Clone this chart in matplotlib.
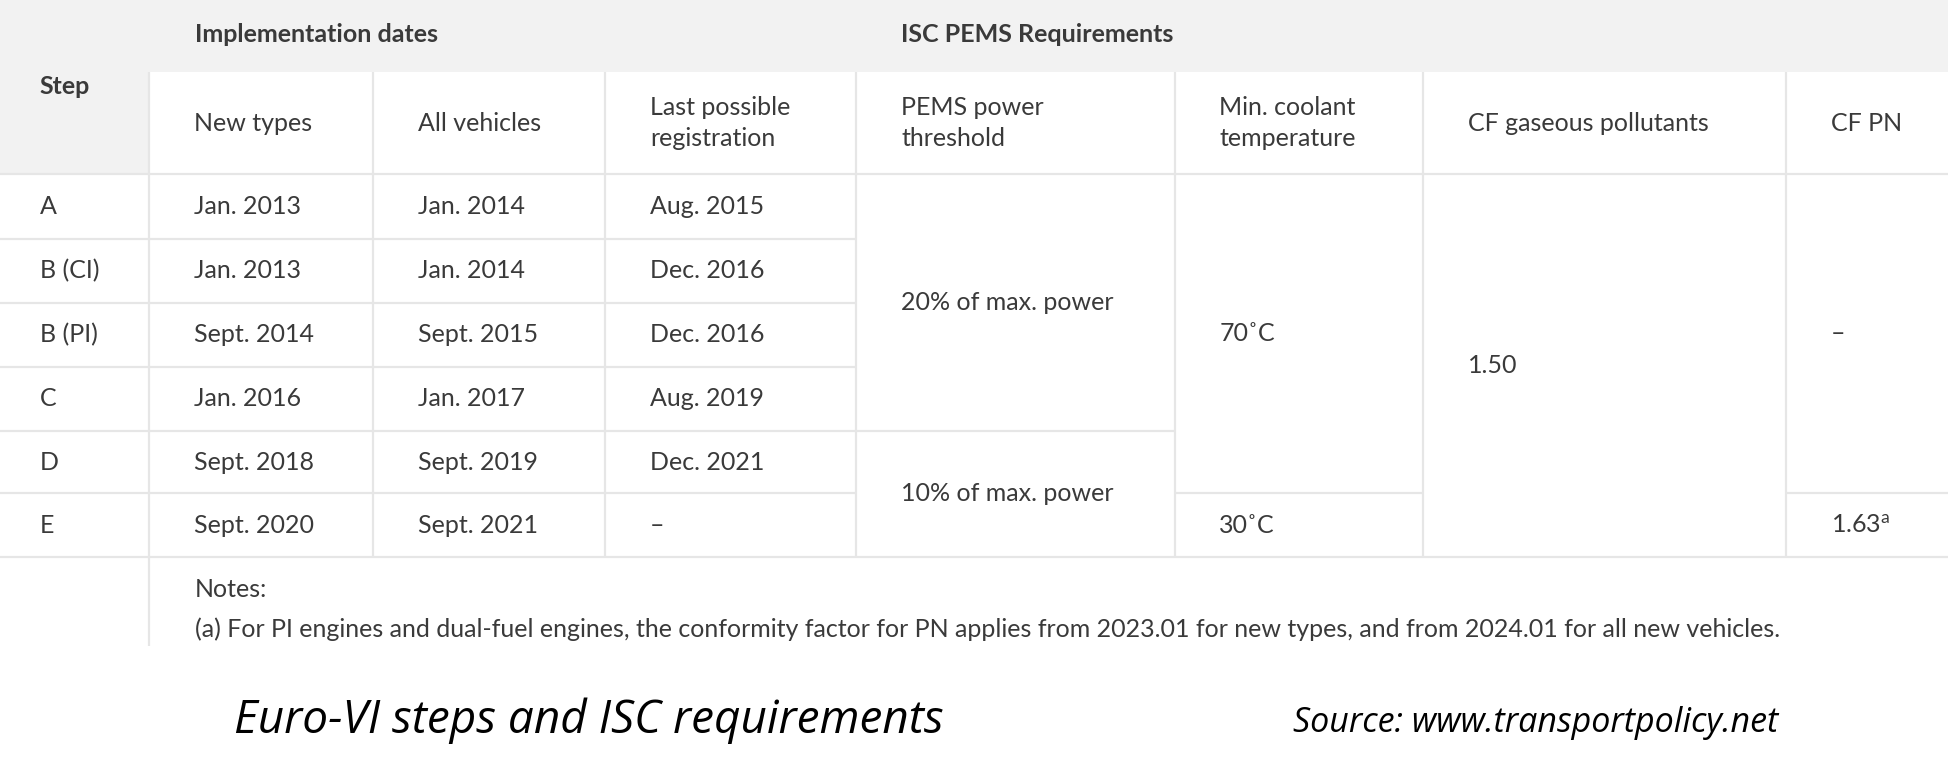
import matplotlib
matplotlib.use("Agg")
import matplotlib.pyplot as plt
from matplotlib.patches import Rectangle

steps = ["A", "B (CI)", "B (PI)", "C", "D", "E"]
new_types = ["Jan. 2013", "Jan. 2013", "Sept. 2014", "Jan. 2016", "Sept. 2018", "Sept. 2020"]
all_vehicles = ["Jan. 2014", "Jan. 2014", "Sept. 2015", "Jan. 2017", "Sept. 2019", "Sept. 2021"]
last_reg = ["Aug. 2015", "Dec. 2016", "Dec. 2016", "Aug. 2019", "Dec. 2021", "–"]
pems = [("20% of max. power", 0, 4), ("10% of max. power", 4, 6)]
coolant = [("70˚C", 0, 5), ("30˚C", 5, 6)]
cf_gas = [("1.50", 0, 6)]
cf_pn = [("–", 0, 5), ("1.63$^{\\mathregular{a}}$", 5, 6)]
headers = ["New types", "All vehicles", "Last possible\nregistration", "PEMS power\nthreshold",
           "Min. coolant\ntemperature", "CF gaseous pollutants", "CF PN"]
notes = ["Notes:", "(a) For PI engines and dual-fuel engines, the conformity factor for PN applies from 2023.01 for new types, and from 2024.01 for all new vehicles."]

W, H = 1568, 622
fig = plt.figure(figsize=(19.49, 7.73), dpi=100)
ax = fig.add_axes([0, 0, 1, 1])
ax.set_xlim(0, W); ax.set_ylim(H, 0); ax.axis("off")

gray = "#f2f2f2"; line = "#e6e6e6"; tc = "#3a3a3a"
fam = ["Lato", "DejaVu Sans"]; fs = 18
cols = [0, 120, 300, 487, 689, 945, 1145, 1437, 1568]
rows = [140, 192, 244, 295, 347, 397, 448]

ax.add_patch(Rectangle((0, 0), W, 58, color=gray, lw=0))
ax.add_patch(Rectangle((0, 0), 120, 140, color=gray, lw=0))
ax.add_patch(Rectangle((120, 58), W - 120, 82, color="white", lw=0))

def hl(y, x0, x1):
    ax.plot([x0, x1], [y, y], color=line, lw=1.6, solid_capstyle="butt")
def vl(x, y0, y1):
    ax.plot([x, x], [y0, y1], color=line, lw=1.6, solid_capstyle="butt")

hl(140, 0, W); hl(448, 0, W)
for r in rows[1:-1]:
    hl(r, 0, 689)
hl(347, 689, 945); hl(397, 945, 1145); hl(397, 1437, W)
for c in cols[1:-1]:
    vl(c, 58, 448)
vl(120, 448, 520)

pad = 36
ax.text(32, 70, "Step", fontsize=fs, fontweight="bold", family=fam, color=tc, va="center")
ax.text(157, 28, "Implementation dates", fontsize=fs, fontweight="bold", family=fam, color=tc, va="center")
ax.text(725, 28, "ISC PEMS Requirements", fontsize=fs, fontweight="bold", family=fam, color=tc, va="center")
for i, h in enumerate(headers):
    ax.text(cols[i + 1] + pad, 99, h, fontsize=fs, family=fam, color=tc, va="center", linespacing=1.45)

for i in range(6):
    yc = (rows[i] + rows[i + 1]) / 2
    ax.text(32, yc, steps[i], fontsize=fs, family=fam, color=tc, va="center")
    for j, col in enumerate([new_types, all_vehicles, last_reg]):
        ax.text(cols[j + 1] + pad, yc, col[i], fontsize=fs, family=fam, color=tc, va="center")

for k, group in zip([4, 5, 6, 7], [pems, coolant, cf_gas, cf_pn]):
    for txt, a, b in group:
        yc = (rows[a] + rows[b]) / 2
        ax.text(cols[k] + pad, yc, txt, fontsize=fs, family=fam, color=tc, va="center")

ax.text(157, 474, notes[0], fontsize=fs, family=fam, color=tc, va="center")
ax.text(157, 506, notes[1], fontsize=fs, family=fam, color=tc, va="center")

ax.text(188, 580, "Euro-VI steps and ISC requirements", fontsize=33, style="italic",
        family=["Open Sans", "DejaVu Sans"], color="black", va="center")
ax.text(1040, 582, "Source: www.transportpolicy.net", fontsize=24.5, style="italic",
        family=["Open Sans", "DejaVu Sans"], color="black", va="center")

fig.savefig("out.png", dpi=100)
